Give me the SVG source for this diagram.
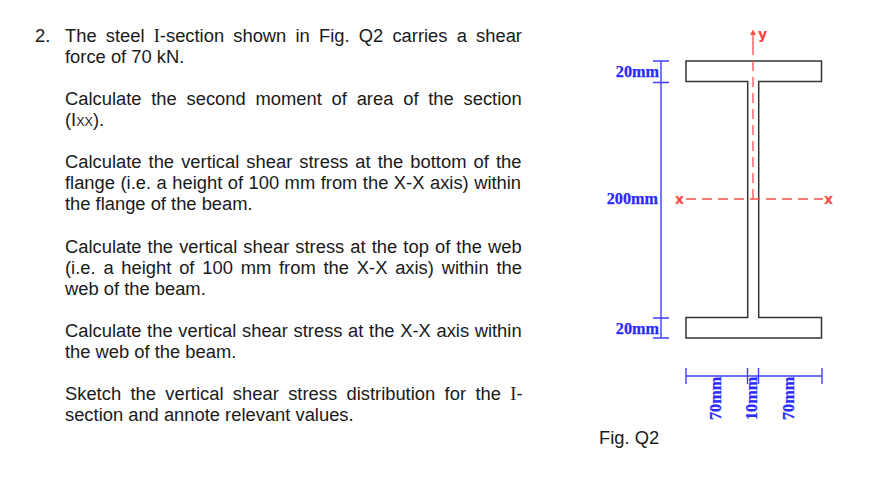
<svg xmlns="http://www.w3.org/2000/svg" width="887" height="479" viewBox="0 0 887 479">
<style>
.t{font-family:"Liberation Sans",Arial,sans-serif;font-size:18.35px;fill:#1a1a1a}
.s{font-family:"Liberation Serif","Times New Roman",serif}
.d{font-family:"Liberation Serif","Times New Roman",serif;font-size:16.2px;font-weight:bold;fill:#2a2aff;stroke:#2a2aff;stroke-width:.25}
.r{font-family:"DejaVu Sans",sans-serif;font-size:14px;font-weight:bold;fill:#ff4444}
.b{stroke:#3f3fff;stroke-width:1.4;fill:none}
.dash{stroke:#ff4d4d;stroke-width:1.3;stroke-dasharray:10 6;fill:none}
</style>
<rect width="887" height="479" fill="#fff"/>
<g id="question-text">
<text class="t" x="35" y="41.500">2.</text>
<text class="t" x="65" y="41.500" word-spacing="4.100">The steel <tspan class="s">I</tspan>-section shown in Fig. Q2 carries a shear</text>
<text class="t" x="65" y="62.500">force of 70 kN.</text>
<text class="t" x="65" y="104.500" word-spacing="4.700">Calculate the second moment of area of the section</text>
<text class="t" x="65" y="125.500">(I<tspan font-size="12.500">XX</tspan>).</text>
<text class="t" x="65" y="167.500" word-spacing="2">Calculate the vertical shear stress at the bottom of the</text>
<text class="t" x="65" y="188.500" word-spacing=".4">flange (i.e. a height of 100 mm from the X-X axis) within</text>
<text class="t" x="65" y="209.500">the flange of the beam.</text>
<text class="t" x="65" y="252.500" word-spacing="1">Calculate the vertical shear stress at the top of the web</text>
<text class="t" x="65" y="273.500" word-spacing="2.700">(i.e. a height of 100 mm from the X-X axis) within the</text>
<text class="t" x="65" y="294.500">web of the beam.</text>
<text class="t" x="65" y="336.500" word-spacing=".55">Calculate the vertical shear stress at the X-X axis within</text>
<text class="t" x="65" y="357.500">the web of the beam.</text>
<text class="t" x="65" y="399.500" word-spacing="4.300">Sketch the vertical shear stress distribution for the <tspan class="s">I</tspan>-</text>
<text class="t" x="65" y="420.500">section and annote relevant values.</text>
</g>
<g id="i-section">
<path d="M686 61H821.500V81.500H758.700V317.500H821.500V338H686V317.500H747.700V81.500H686Z" fill="none" stroke="#333" stroke-width="1.500"/>
</g>
<g id="connectors">
<path class="b" d="M661 61V338M653 61H669M653 82.500H669M653 318H669M653 338H669"/>
<path class="b" d="M686 376H822M686 368V384M747.500 368V384M758.500 368V384M822 368V384"/>
<path class="dash" d="M753 199V44"/>
<path d="M753 45V32" stroke="#ff4d4d" stroke-width="1.300" fill="none"/>
<path d="M750 35L753 29.500L756 35Z" fill="#ff4d4d"/>
<path class="dash" d="M686 199H823"/>
</g>
<g id="labels">
<text class="d" x="659" y="77" text-anchor="end">20mm</text>
<text class="d" x="658" y="204" text-anchor="end">200mm</text>
<text class="d" x="659" y="334" text-anchor="end">20mm</text>
<text class="d" transform="translate(721 420) rotate(-90)">70mm</text>
<text class="d" transform="translate(757 420) rotate(-90)">10mm</text>
<text class="d" transform="translate(794 420) rotate(-90)">70mm</text>
<text class="r" x="675" y="204">x</text>
<text class="r" x="824" y="204">x</text>
<text class="r" x="758" y="39">y</text>
</g>
<text id="fig-caption" class="t" x="599" y="444">Fig. Q2</text>
</svg>
